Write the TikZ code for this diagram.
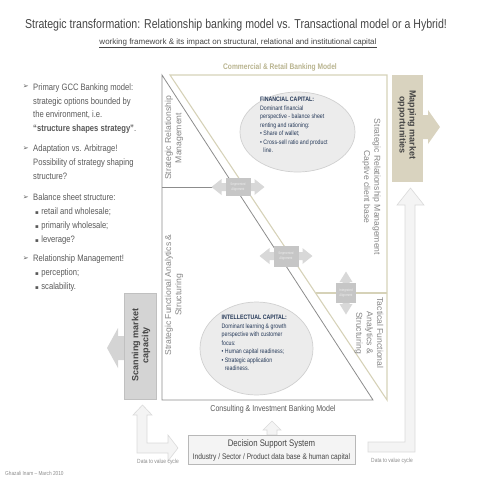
\documentclass[tikz,border=0pt]{standalone}
\usepackage{fontspec}
\setmainfont[FakeStretch=0.82]{Liberation Sans}
\newfontfamily\widefont{Liberation Sans}
\newfontfamily\symbolfont{DejaVu Sans}
\usepackage{xcolor}
\usetikzlibrary{calc, positioning, shapes.geometric}

\definecolor{titlegray}{HTML}{454545}
\definecolor{textgray}{HTML}{595959}
\definecolor{labelgray}{HTML}{858585}
\definecolor{framegray}{HTML}{8C8C8C}
\definecolor{beigeline}{HTML}{D6D2B8}
\definecolor{beigetext}{HTML}{B8B38E}
\definecolor{beigefill}{HTML}{D9D3BF}
\definecolor{navytext}{HTML}{243858}
\definecolor{cloudfill}{HTML}{ECECEC}
\definecolor{cloudline}{HTML}{D0D0D0}
\definecolor{arrowgray}{HTML}{D8D8D8}
\definecolor{boxgray}{HTML}{C6C6C6}
\definecolor{scanfill}{HTML}{D4D4D4}
\definecolor{scanline}{HTML}{C0C0C0}
\definecolor{palefill}{HTML}{F4F4F4}
\definecolor{paleline}{HTML}{DADADA}
\definecolor{dssline}{HTML}{B8B8B8}
\definecolor{cyclegray}{HTML}{8C8C8C}

\tikzset{
	bodytext/.style={font=\fontsize{9.3}{13.7}\selectfont, text=textgray, align=left, anchor=north west},
	marker/.style={font=\symbolfont\fontsize{7}{7}\selectfont, text=textgray, anchor=north east},
	sidelabel/.style={font=\widefont\fontsize{8.6}{10.3}\selectfont, text=labelgray, align=center},
	capitalcloud/.style={ellipse, draw=cloudline, fill=cloudfill, line width=0.7pt},
	capitaltext/.style={font=\fontsize{6.4}{8.5}\selectfont, text=navytext, align=left, anchor=north west},
	alignbox/.style={fill=boxgray, font=\fontsize{3.6}{4.4}\selectfont, text=white!94!black, align=center},
	alignarrow/.style={fill=arrowgray},
	cyclearrow/.style={fill=palefill, draw=paleline, line width=0.6pt},
	cyclelabel/.style={font=\fontsize{6}{7}\selectfont, text=cyclegray},
	sidebox/.style={font=\widefont\bfseries\fontsize{9}{10}\selectfont, text=titlegray, align=center},
}

\newcommand{\subbullet}{\hspace{2pt}{\symbolfont\fontsize{5.5}{5.5}\selectfont▪}\hspace{2.5pt}}

\begin{document}
\begin{tikzpicture}[x=1pt, y=-1pt, every node/.style={inner sep=0pt}]
		\useasboundingbox (0,0) rectangle (480,480);
		\def\investmenttriangle{(162,75) -- (162,400) -- (373,400) -- cycle}
		\def\commercialtriangle{(170,75) -- (387,75) -- (387,400) -- cycle}
		\def\segmentedarrow{(-26.5,0) -- (-16.5,-8) -- (-16.5,-4) -- (16.5,-4) -- (16.5,-8) -- (26.5,0) -- (16.5,8) -- (16.5,4) -- (-16.5,4) -- (-16.5,8) -- cycle}
		\def\integratedarrow{(0,-21.5) -- (6.5,-11) -- (3.5,-11) -- (3.5,11) -- (6.5,11) -- (0,21.5) -- (-6.5,11) -- (-3.5,11) -- (-3.5,-11) -- (-6.5,-11) -- cycle}
		
		% title
		\node[font=\fontsize{12.9}{15}\selectfont, text=titlegray] (title) at (236,25) {Strategic transformation: Relationship banking model vs. Transactional model or a Hybrid!};
		\node[font=\widefont\fontsize{8}{9}\selectfont, text=titlegray] (subtitle) at (238,43) {\underline{working framework \& its impact on structural, relational and institutional capital}};
		
		% bullet list
		\node[bodytext] (primary) at (33,83.5) {Primary GCC Banking model:\\strategic options bounded by\\the environment, i.e.\\\textbf{“structure shapes strategy”}.};
		\node[bodytext] (adaptation) at (33,145) {Adaptation vs. Arbitrage!\\Possibility of strategy shaping\\structure?};
		\node[bodytext] (balance) at (33,194) {Balance sheet structure:\\\subbullet retail and wholesale;\\\subbullet primarily wholesale;\\\subbullet leverage?};
		\node[bodytext] (relationship) at (33,255) {Relationship Management!\\\subbullet perception;\\\subbullet scalability.};
		\node[marker] at ($(primary.north west)+(-4,1.5)$) {➢};
		\node[marker] at ($(adaptation.north west)+(-4,1.5)$) {➢};
		\node[marker] at ($(balance.north west)+(-4,1.5)$) {➢};
		\node[marker] at ($(relationship.north west)+(-4,1.5)$) {➢};
		
		% banking model frame
		\begin{scope}
			\draw[framegray, line width=0.8pt] \investmenttriangle;
			\draw[beigeline, line width=1.1pt] \commercialtriangle;
			\draw[framegray, line width=0.8pt] (162,187) -- (234,187);
			\draw[beigeline, line width=1.1pt] (315.5,293) -- (387,293);
		\end{scope}
		
		\node[font=\bfseries\fontsize{8.1}{9}\selectfont, text=beigetext] (commercial) at (280,67) {Commercial \& Retail Banking Model};
		\node[font=\fontsize{8.6}{9}\selectfont, text=textgray] (consulting) at (273,409) {Consulting \& Investment Banking Model};
		
		% capitals
		\node[capitalcloud, minimum width=115, minimum height=80] (financial) at (297.5,132) {};
		\node[capitaltext] (financialtext) at (260,97) {\textbf{FINANCIAL CAPITAL:}\\Dominant financial\\perspective - balance sheet\\renting and rationing:\\• Share of wallet;\\• Cross-sell ratio and product\\\phantom{• }line.};
		\node[capitalcloud, minimum width=113, minimum height=93] (intellectual) at (256.5,348.5) {};
		\node[capitaltext] (intellectualtext) at (221.5,315) {\textbf{INTELLECTUAL CAPITAL:}\\Dominant learning \& growth\\perspective with customer\\focus:\\• Human capital readiness;\\• Strategic application\\\phantom{• }readiness.};
		
		% side labels
		\node[sidelabel, rotate=90] (srmleft) at (174,138) {Strategic Relationship\\Management};
		\node[sidelabel, rotate=90] (sfaleft) at (174,295) {Strategic Functional Analytics \&\\Structuring};
		\node[sidelabel, rotate=-90] (srmright) at (371.5,187) {Strategic Relationship Management\\Captive client base};
		\node[sidelabel, rotate=-90] (tfaright) at (369,333) {Tactical Functional\\Analytics \&\\Structuring};
		
		% alignment arrows
		\begin{scope}[shift={(238,187)}]
			\fill[alignarrow] \segmentedarrow;
			\node[alignbox, minimum width=25, minimum height=18] (segmentedA) at (0,0) {Segmented\\Alignment};
		\end{scope}
		\begin{scope}[shift={(286,256)}]
			\fill[alignarrow] \segmentedarrow;
			\node[alignbox, minimum width=25, minimum height=21] (segmentedB) at (0,0) {Segmented\\Alignment};
		\end{scope}
		\begin{scope}[shift={(346,293)}]
			\fill[alignarrow] \integratedarrow;
			\node[alignbox, minimum width=20, minimum height=20] (integrated) at (0,0) {Integrated\\Alignment};
		\end{scope}
		
		% market boxes
		\fill[beigefill] (423,115) -- (428,115) -- (428,110) -- (440,127) -- (428,144) -- (428,139) -- (423,139) -- cycle;
		\node[fill=beigefill, minimum width=31, minimum height=107] (mapping) at (407.5,128.5) {};
		\node[sidebox, rotate=-90] at (407,125) {Mapping market\\opportunities};
		\fill[scanfill] (124,336) -- (118,336) -- (118,328) -- (107,348) -- (118,368) -- (118,360) -- (124,360) -- cycle;
		\node[fill=scanfill, draw=scanline, line width=0.5pt, minimum width=32, minimum height=106] (scanning) at (140,346) {};
		\node[sidebox, rotate=90] at (141,345) {Scanning market\\capacity};
		
		% decision support system
		\fill[cyclearrow] (142.5,405) -- (152,415) -- (147,415) -- (147,443) -- (168,443) -- (168,435) -- (178,448) -- (168,461) -- (168,453) -- (137,453) -- (137,415) -- (133,415) -- cycle;
		\fill[cyclearrow] (368,442) -- (405,442) -- (405,205) -- (397,205) -- (410.5,188) -- (424,205) -- (415,205) -- (415,452) -- (368,452) -- cycle;
		\fill[cyclearrow] (267,435) -- (267,430) -- (263,430) -- (272,421) -- (281,430) -- (277,430) -- (277,435) -- cycle;
		\node[fill=palefill, draw=dssline, line width=0.6pt, minimum width=167, minimum height=29] (dss) at (271.5,449.5) {};
		\node[font=\fontsize{9.5}{10}\selectfont, text=titlegray] (dsstitle) at (271.5,444) {Decision Support System};
		\node[font=\fontsize{8.1}{9}\selectfont, text=titlegray] (dsstext) at (271.5,457) {Industry / Sector / Product data base \& human capital};
		\node[cyclelabel] (cycleleft) at (158,462) {Data to value cycle};
		\node[cyclelabel] (cycleright) at (392,461) {Data to value cycle};
		\node[font=\fontsize{5.8}{6}\selectfont, text=cyclegray, anchor=west] (footer) at (5,473) {Ghazali Inam – March 2010};
	\end{tikzpicture}
\end{document}
